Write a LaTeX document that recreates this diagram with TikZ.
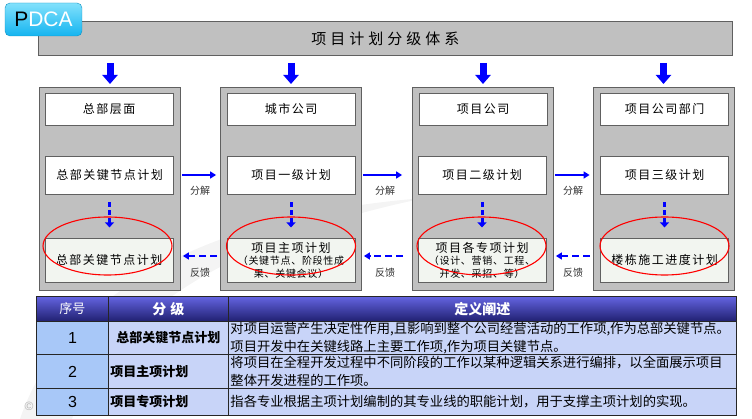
\documentclass[tikz,border=0pt]{standalone}
\usepackage{fontspec}
\setmainfont{Noto Sans CJK SC}
\newfontfamily\latinsf{Liberation Sans}
\usetikzlibrary{arrows.meta,shapes.geometric}

\definecolor{colgray}{RGB}{192,192,192}
\definecolor{edgegray}{RGB}{96,96,96}
\definecolor{pale}{RGB}{242,245,240}
\definecolor{arrowblue}{RGB}{0,0,255}
\definecolor{cellA}{RGB}{168,200,248}
\definecolor{cellB}{RGB}{200,212,248}
\definecolor{hdtop}{RGB}{100,100,225}
\definecolor{hdbot}{RGB}{32,32,112}
\definecolor{badgetop}{RGB}{130,225,252}
\definecolor{badgebot}{RGB}{20,180,240}

\makeatletter
\newdimen\lsamount
\def\lspace#1#2{\lsamount=#1\relax\ls@first#2\@nil}
\def\ls@first#1{#1\ls@loop}
\def\ls@loop#1{\ifx#1\@nil\else\hskip\lsamount#1\expandafter\ls@loop\fi}
\makeatother

\begin{document}
\begin{tikzpicture}[x=1pt,y=-1pt,
  titlebar/.style={draw=edgegray, fill=colgray, line width=0.8pt, inner sep=0pt, font=\fontsize{15}{18}\selectfont},
  colbox/.style={draw=edgegray, fill=colgray, line width=0.8pt, inner sep=0pt, minimum width=141pt, minimum height=203pt, anchor=north},
  inbox/.style={draw=edgegray, fill=white, line width=0.8pt, inner sep=0pt, minimum width=128pt, align=center, font=\fontsize{12}{14}\selectfont},
  botbox/.style={inbox, fill=pale, minimum height=44pt},
  redring/.style={draw=red, line width=1.1pt, ellipse, inner sep=0pt, minimum width=129pt, minimum height=58pt},
  bigarrow/.style={draw=arrowblue, line width=7pt, -{Triangle[width=15pt,length=9pt]}},
  splitarrow/.style={draw=arrowblue, line width=2pt, -{Triangle[width=7pt,length=6pt]}},
  backarrow/.style={draw=arrowblue, line width=2.5pt, dash pattern=on 7pt off 4pt, -{Triangle[width=7pt,length=6pt]}},
  downdash/.style={draw=arrowblue, line width=3pt, dash pattern=on 5pt off 3pt, -{Triangle[width=9pt,length=5pt]}},
  smalllabel/.style={font=\fontsize{10}{12}\selectfont, text=black!80},
  cell/.style={draw=black!85, line width=0.9pt, inner sep=0pt, anchor=north west},
  hcell/.style={cell, top color=hdtop, bottom color=hdbot, text=white, minimum height=25pt},
  bodytext/.style={font=\fontsize{13.3}{17.5}\selectfont},
]
\useasboundingbox (0,0) rectangle (752,419);

% faint watermark swoosh
\fill[gray!9] (20,419) .. controls (60,300) and (200,215) .. (425,198) .. controls (260,232) and (115,300) .. (72,419) -- cycle;
\node[text=gray!60, font=\latinsf\fontsize{12}{14}\selectfont] (copy) at (29,406) {©};

% title bar
\node[titlebar, anchor=north west, minimum width=694pt, minimum height=34pt] (title) at (38,21) {\lspace{4pt}{项目计划分级体系}};

% PDCA badge
\node[draw=badgebot!80!black, line width=0.4pt, rounded corners=5pt, top color=badgetop, bottom color=badgebot,
      minimum width=77pt, minimum height=33pt, inner sep=0pt, font=\latinsf\fontsize{21}{24}\selectfont] (badge) at (43.5,19.5)
      {\textcolor{black}{P}\textcolor{white}{DCA}};

% columns
\node[colbox] (c1) at (110,87) {};
\node[colbox] (c2) at (291,87) {};
\node[colbox] (c3) at (483,87) {};
\node[colbox] (c4) at (663.5,87) {};

% arrows from title
\foreach \c in {c1,c2,c3,c4}
  \draw[bigarrow, shorten <=7pt, shorten >=3pt] (title.south -| \c.north) -- (\c.north);

% header boxes
\node[inbox, minimum height=32pt] (h1) at (109,109) {\lspace{1.5pt}{总部层面}};
\node[inbox, minimum height=32pt] (h2) at (291,109) {\lspace{1.5pt}{城市公司}};
\node[inbox, minimum height=32pt] (h3) at (483,109) {\lspace{1.5pt}{项目公司}};
\node[inbox, minimum height=32pt] (h4) at (664.5,109) {\lspace{1.5pt}{项目公司部门}};

% middle boxes
\node[inbox, minimum height=38pt] (m1) at (109.5,175) {\lspace{1.5pt}{总部关键节点计划}};
\node[inbox, minimum height=38pt] (m2) at (291,175) {\lspace{1.5pt}{项目一级计划}};
\node[inbox, minimum height=38pt] (m3) at (482,175) {\lspace{1.5pt}{项目二级计划}};
\node[inbox, minimum height=38pt] (m4) at (664.5,175) {\lspace{1.5pt}{项目三级计划}};

% bottom boxes
\node[botbox] (b1) at (109,260) {\lspace{1.5pt}{总部关键节点计划}};
\node[botbox] (b2) at (291,260) {\lspace{1.5pt}{项目主项计划}\\[-2pt]{\fontsize{10}{12}\selectfont\lspace{0.7pt}{（关键节点、阶段性成}}\\[-1pt]{\fontsize{10}{12}\selectfont\lspace{0.7pt}{果、关键会议）}}};
\node[botbox] (b3) at (482,260) {\lspace{1.5pt}{项目各专项计划}\\[-2pt]{\fontsize{10}{12}\selectfont\lspace{0.7pt}{（设计、营销、工程、}}\\[-1pt]{\fontsize{10}{12}\selectfont\lspace{0.7pt}{开发、采招、等）}}};
\node[botbox] (b4) at (664.5,260) {\lspace{1.5pt}{楼栋施工进度计划}};

% red ellipses
\node[redring] (e1) at (107.5,246) {};
\node[redring] (e2) at (291,246) {};
\node[redring] (e3) at (481.5,246) {};
\node[redring] (e4) at (664.5,246) {};

% vertical dashed arrows
\foreach \i in {1,2,3,4}
  \draw[downdash] ([yshift=-8pt]m\i.south) -- ([yshift=-33pt]m\i.south);

% split arrows
\draw[splitarrow] ([xshift=1pt]c1.east |- m1.center) -- ([xshift=-4pt]c2.west |- m1.center);
\draw[splitarrow] ([xshift=1pt]c2.east |- m2.center) -- ([xshift=-10pt]c3.west |- m2.center);
\draw[splitarrow] ([xshift=1pt]c3.east |- m3.center) -- ([xshift=-3pt]c4.west |- m3.center);
\node[smalllabel] (s1) at (200,191) {分解};
\node[smalllabel] (s2) at (385,191) {分解};
\node[smalllabel] (s3) at (573,191) {分解};

% feedback arrows
\draw[backarrow] ([xshift=-3pt,yshift=-10pt]c2.west |- e1.center) -- ([xshift=2pt,yshift=-10pt]c1.east |- e1.center);
\draw[backarrow] ([xshift=-9pt,yshift=-10pt]c3.west |- e1.center) -- ([xshift=2pt,yshift=-10pt]c2.east |- e1.center);
\draw[backarrow] ([xshift=-3pt,yshift=-10pt]c4.west |- e1.center) -- ([xshift=2pt,yshift=-10pt]c3.east |- e1.center);
\node[smalllabel] (f1) at (200,273) {反馈};
\node[smalllabel] (f2) at (385,273) {反馈};
\node[smalllabel] (f3) at (573,273) {反馈};

% table header
\node[hcell, minimum width=72pt, font=\fontsize{13}{15}\selectfont] (t00) at (36,296) {序号};
\node[hcell, minimum width=120pt, font=\bfseries\fontsize{14}{16}\selectfont] (t01) at (108,296) {分\hspace{4pt}级};
\node[hcell, minimum width=508pt, font=\bfseries\fontsize{14}{16}\selectfont] (t02) at (228,296) {定义阐述};

% row 1
\node[cell, fill=cellA, minimum width=72pt, minimum height=33pt, font=\latinsf\fontsize{16}{18}\selectfont] (t10) at (36,321) {1};
\node[cell, fill=cellB, minimum width=120pt, minimum height=33pt, font=\bfseries\fontsize{13}{15}\selectfont] (t11) at (108,321) {总部关键节点计划};
\node[cell, fill=cellB, minimum width=508pt, minimum height=33pt, inner xsep=2pt, text width=504pt, align=left, bodytext] (t12) at (228,321)
  {对项目运营产生决定性作用,且影响到整个公司经营活动的工作项,作为总部关键节点。\\项目开发中在关键线路上主要工作项,作为项目关键节点。};

% row 2
\node[cell, fill=cellA, minimum width=72pt, minimum height=34pt, font=\latinsf\fontsize{16}{18}\selectfont] (t20) at (36,354) {2};
\node[cell, fill=cellB, minimum width=120pt, minimum height=34pt, inner xsep=2pt, text width=116pt, align=left, font=\bfseries\fontsize{13}{15}\selectfont] (t21) at (108,354) {项目主项计划};
\node[cell, fill=cellB, minimum width=508pt, minimum height=34pt, inner xsep=2pt, text width=504pt, align=left, bodytext] (t22) at (228,354)
  {将项目在全程开发过程中不同阶段的工作以某种逻辑关系进行编排，以全面展示项目\\整体开发进程的工作项。};

% row 3
\node[cell, fill=cellA, minimum width=72pt, minimum height=27pt, font=\latinsf\fontsize{16}{18}\selectfont] (t30) at (36,388) {3};
\node[cell, fill=cellB, minimum width=120pt, minimum height=27pt, inner xsep=2pt, text width=116pt, align=left, font=\bfseries\fontsize{13}{15}\selectfont] (t31) at (108,388) {项目专项计划};
\node[cell, fill=cellB, minimum width=508pt, minimum height=27pt, inner xsep=2pt, text width=504pt, align=left, bodytext] (t32) at (228,388)
  {指各专业根据主项计划编制的其专业线的职能计划，用于支撑主项计划的实现。};
\end{tikzpicture}
\end{document}
